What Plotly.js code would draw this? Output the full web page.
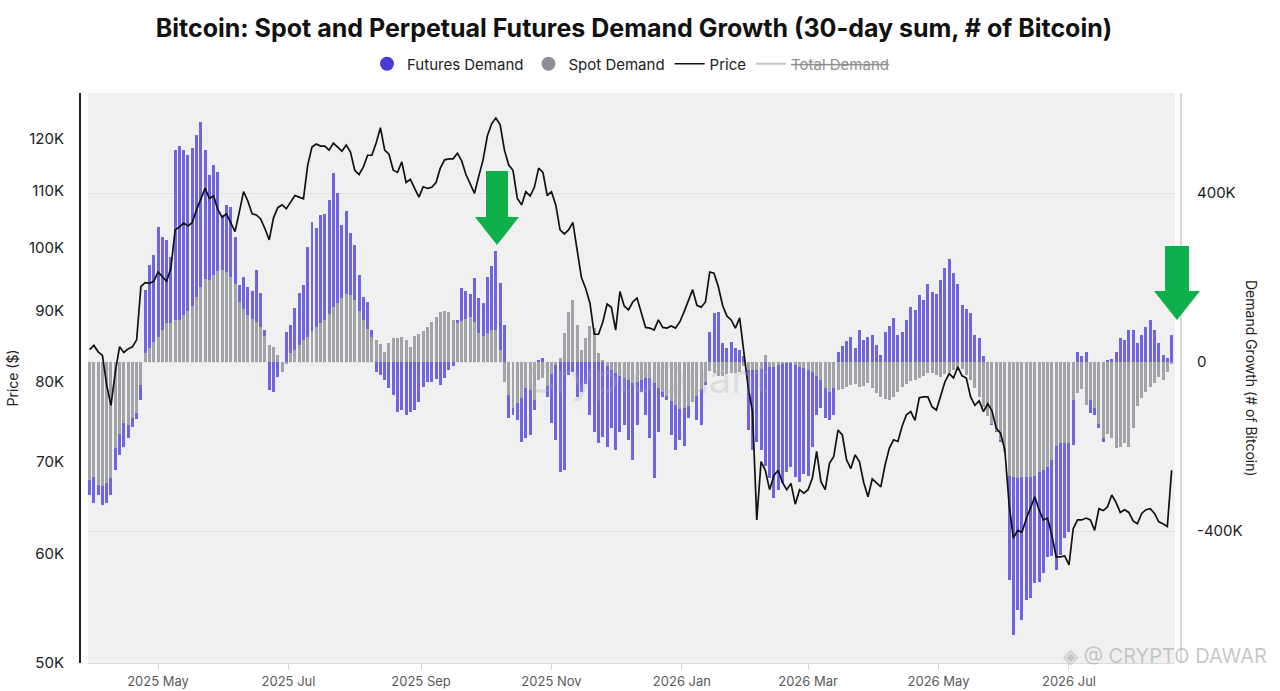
<!DOCTYPE html>
<html>
<head>
<meta charset="utf-8">
<script src="https://cdn.plot.ly/plotly-3.0.1.min.js"></script>
<style>
  html, body { margin: 0; padding: 0; background: #ffffff; }
  #chart { width: 1280px; height: 691px; }
</style>
</head>
<body>
<div id="chart"></div>
<script>
// ---------- DATA ----------
// Sampling: one value every 2 days starting 2025-03-30
const startDate = '2025-03-30';
const stepDays = 2;

// Futures demand, 30-day sum, thousands of BTC
const futuresDemandK = [
  -315, -334, -315, -338, -334, -315, -256, -220, -201, -180,
  -154, -135, -90, 170, 230, 253, 320, 296, 289, 249,
  502, 511, 502, 490, 507, 537, 568, 502, 443, 466,
  450, 348, 372, 367, 296, 182, 201, 178, 168, 218,
  163, 76, -66, -71, -36, -7, 71, 88, 128, 163,
  182, 272, 331, 317, 348, 350, 383, 447, 400, 324,
  357, 305, 277, 206, 154, 142, 76, -24, -31, -43,
  -62, -78, -118, -114, -125, -118, -114, -95, -59, -47,
  -47, -40, -54, -38, -19, -9, 99, 175, 168, 161,
  199, 151, 140, 201, 227, 262, 187, 88, -133, -125,
  -137, -189, -180, -173, -114, 5, 9, -83, -144, -185,
  -260, -256, -31, -24, -83, -71, -52, -125, -166, -192,
  -178, -201, -156, -208, -166, -149, -185, -232, -149, -71,
  -125, -180, -275, -166, -83, -90, -173, -208, -185, -199,
  -133, -85, -137, -149, -54, 71, 116, 118, 45, 33,
  47, 33, 28, 14, -161, -208, -189, -208, -246, -275,
  -322, -303, -286, -260, -249, -272, -284, -265, -270, -201,
  -125, -109, -133, -137, -125, 24, 38, 50, 59, 33,
  76, 52, 59, 64, 40, 17, 71, 85, 104, 64,
  71, 99, 130, 123, 159, 147, 185, 166, 161, 194,
  222, 244, 211, 185, 135, 125, 116, 64, 57, 14,
  -114, -149, -166, -189, -213, -516, -646, -587, -611, -563,
  -559, -523, -521, -499, -462, -459, -492, -457, -417, -402,
  -196, 24, 14, 24, -121, -125, -156, -189, 5, 7,
  24, 57, 52, 76, 76, 45, 64, 83, 99, 76,
  45, 17, 9, 64
];

// Spot demand, 30-day sum, thousands of BTC
const spotDemandK = [
  -279, -272, -291, -294, -286, -275, -204, -170, -144, -149,
  -133, -121, -54, 21, 33, 47, 59, 76, 92, 92,
  99, 99, 111, 121, 133, 154, 178, 196, 194, 206,
  215, 218, 213, 201, 185, 142, 125, 111, 102, 95,
  83, 62, 40, 36, 17, -24, -5, 21, 28, 40,
  52, 59, 73, 83, 92, 99, 114, 130, 140, 151,
  161, 159, 147, 121, 99, 78, 59, 52, 43, 24,
  45, 57, 57, 59, 52, 36, 62, 66, 73, 83,
  95, 107, 118, 121, 118, 99, 92, 97, 102, 107,
  95, 69, 62, 69, 76, 76, 28, -47, -78, -109,
  -97, -85, -62, -66, -90, -43, -38, -57, -28, -7,
  9, 69, 118, 147, 88, 28, 57, 85, 80, 21,
  5, -9, -19, -26, -33, -38, -43, -50, -47, -43,
  -38, -38, -50, -62, -71, -80, -92, -102, -111, -109,
  -104, -95, -80, -64, -47, -21, -26, -33, -33, -28,
  -26, -26, -24, -9, -19, -19, -19, -17, 17, -12,
  -12, -7, -5, -2, -2, -7, -12, -14, -19, -24,
  -33, -43, -62, -71, -62, -66, -64, -59, -54, -52,
  -59, -57, -50, -62, -73, -83, -88, -90, -83, -71,
  -59, -52, -45, -43, -38, -33, -26, -26, -31, -36,
  -28, -24, -19, -14, -17, -31, -43, -62, -83, -107,
  -128, -147, -163, -185, -213, -270, -272, -275, -272, -272,
  -272, -270, -260, -256, -249, -232, -199, -192, -192, -192,
  -90, -73, -64, -102, -90, -109, -147, -180, -170, -180,
  -204, -201, -192, -201, -156, -104, -85, -71, -59, -50,
  -36, -43, -24, -5
];

// Bitcoin price, thousands of USD
const priceK = [
  84.4, 85.0, 84.1, 83.6, 79.5, 76.9, 81.3, 84.8, 84.0, 84.5,
  84.8, 85.8, 93.8, 94.4, 94.3, 94.6, 96.1, 95.3, 94.6, 96.7,
  103.1, 103.6, 104.3, 103.8, 104.4, 106.6, 108.7, 110.5, 108.7, 109.1,
  106.6, 105.3, 105.9, 104.4, 102.8, 106.2, 109.9, 108.2, 105.9, 105.7,
  105.0, 103.3, 101.4, 105.2, 107.0, 107.5, 106.8, 108.0, 109.2, 108.9,
  108.6, 114.9, 118.4, 119.0, 118.6, 118.6, 117.8, 119.2, 118.4, 117.6,
  118.8, 117.4, 113.9, 113.1, 114.5, 116.8, 116.8, 119.2, 122.3, 117.8,
  117.0, 113.9, 113.5, 115.5, 111.6, 112.2, 110.5, 108.9, 110.8, 110.5,
  110.7, 111.6, 114.3, 115.9, 116.1, 116.1, 117.2, 115.7, 113.1, 111.2,
  109.6, 112.8, 115.9, 120.6, 123.1, 124.3, 122.9, 117.8, 114.9, 113.9,
  108.7, 107.5, 109.9, 109.1, 110.7, 114.3, 113.5, 109.2, 109.9, 107.5,
  103.1, 102.4, 103.1, 104.4, 100.0, 95.2, 93.5, 91.2, 86.6, 86.6,
  88.4, 91.1, 90.6, 87.2, 93.0, 90.8, 90.2, 91.4, 92.0, 89.9,
  87.6, 87.5, 87.2, 88.7, 87.6, 87.5, 87.8, 87.5, 88.4, 89.9,
  91.7, 93.3, 90.9, 90.6, 91.4, 96.1, 95.9, 93.8, 90.9, 89.3,
  88.7, 87.5, 89.0, 84.0, 79.2, 76.1, 63.5, 70.0, 69.0, 66.8,
  68.4, 69.0, 67.6, 66.8, 67.5, 65.2, 66.8, 66.4, 66.8, 68.1,
  71.2, 67.7, 66.8, 69.8, 70.6, 73.8, 73.2, 70.2, 69.2, 70.8,
  70.0, 67.6, 66.0, 68.0, 67.5, 67.1, 69.6, 71.6, 72.6, 72.4,
  74.3, 75.7, 76.1, 75.0, 77.9, 78.0, 78.0, 76.7, 76.3, 78.1,
  80.0, 81.1, 80.5, 82.0, 80.8, 80.5, 78.0, 76.9, 77.5, 76.1,
  77.1, 76.2, 74.0, 73.4, 71.4, 65.2, 61.6, 62.4, 62.2, 63.6,
  64.9, 66.0, 64.6, 63.5, 63.7, 61.9, 59.7, 59.7, 59.8, 58.9,
  62.6, 63.5, 63.5, 63.7, 63.5, 62.4, 64.7, 64.5, 64.9, 66.2,
  65.4, 64.3, 64.6, 64.3, 63.4, 63.1, 64.2, 64.6, 64.7, 64.2,
  63.3, 63.1, 62.8, 69.0
];

// Axis ticks
const xTickDates  = ['2025-05-01','2025-07-01','2025-09-01','2025-11-01','2026-01-01','2026-03-01','2026-05-01','2026-07-01'];
const xTickLabels = ['2025 May','2025 Jul','2025 Sep','2025 Nov','2026 Jan','2026 Mar','2026 May','2026 Jul'];
const priceTicks  = [50, 60, 70, 80, 90, 100, 110, 120];
const priceTickLabels = ['50K','60K','70K','80K','90K','100K','110K','120K'];
const demandTicks = [-400, 0, 400];
const demandTickLabels = ['-400K','0','400K'];

const titleText = 'Bitcoin: Spot and Perpetual Futures Demand Growth (30-day sum, # of Bitcoin)';

// ---------- BUILD ----------
const dayMs = 86400000;
const t0 = Date.parse(startDate + 'T00:00:00Z');
const dates = futuresDemandK.map((_, i) => new Date(t0 + i * stepDays * dayMs).toISOString().slice(0, 10));

const FUT = '#7064e3';
const SPOT = '#a2a2a9';
const BAR_W = 1.4 * dayMs;

const traces = [
  { type: 'bar', x: dates, y: futuresDemandK, yaxis: 'y', name: 'Futures Demand',
    marker: { color: FUT, line: { width: 0 } }, width: BAR_W,
    showlegend: false, legendgroup: 'fut', hoverinfo: 'skip' },
  { type: 'bar', x: dates, y: spotDemandK, yaxis: 'y', name: 'Spot Demand',
    marker: { color: SPOT, line: { width: 0 } }, width: BAR_W,
    showlegend: false, legendgroup: 'spot', hoverinfo: 'skip' },
  { type: 'scatter', mode: 'markers', x: [dates[0]], y: [null], yaxis: 'y',
    name: 'Futures Demand', legendgroup: 'fut', legendrank: 1,
    marker: { color: '#4b3bd6', size: 14, symbol: 'circle' }, hoverinfo: 'skip' },
  { type: 'scatter', mode: 'markers', x: [dates[0]], y: [null], yaxis: 'y',
    name: 'Spot Demand', legendgroup: 'spot', legendrank: 2,
    marker: { color: '#8e8d96', size: 14, symbol: 'circle' }, hoverinfo: 'skip' },
  { type: 'scatter', mode: 'lines', x: dates, y: priceK, yaxis: 'y2', name: 'Price',
    legendrank: 3, line: { color: '#111111', width: 1.7 }, hoverinfo: 'skip' },
  { type: 'scatter', mode: 'lines', x: [dates[0]], y: [null], yaxis: 'y',
    name: '<span style="text-decoration:line-through">Total Demand</span>',
    visible: 'legendonly', legendrank: 4, line: { color: '#8a8a8a', width: 2 }, hoverinfo: 'skip' }
];

const layout = {
  width: 1280, height: 691,
  paper_bgcolor: '#ffffff', plot_bgcolor: '#f0f0f0',
  font: { family: 'Inter, "Open Sans", sans-serif', color: '#222222', size: 14 },
  margin: { l: 80, r: 99, t: 93, b: 28, pad: 0 },
  title: { text: titleText, xref: 'container', yref: 'container', x: 0.4953, y: 0.9595,
           xanchor: 'center', yanchor: 'middle',
           font: { family: 'Inter, sans-serif', size: 25, weight: 700, color: '#111111' } },
  barmode: 'overlay', bargap: 0,
  hovermode: false,
  showlegend: true,
  legend: { orientation: 'h', x: 0.5, xanchor: 'center', y: 1.0509, yanchor: 'middle',
            font: { size: 15, color: '#222222' }, bgcolor: 'rgba(0,0,0,0)', itemwidth: 30 },
  xaxis: { type: 'date', domain: [0.00727, 0.99455],
           range: ['2025-03-29 06:00', '2026-08-19 14:00'],
           tickmode: 'array', tickvals: xTickDates, ticktext: xTickLabels,
           ticks: 'outside', ticklen: 6, tickcolor: '#d2d2d2', tickwidth: 1,
           showline: true, linecolor: '#dcdcdc', linewidth: 1,
           showgrid: false, zeroline: false,
           tickfont: { size: 13, color: '#5a5a5a' } },
  yaxis: { anchor: 'free', position: 1, side: 'right',
           range: [-712.4, 636.7],
           tickmode: 'array', tickvals: demandTicks, ticktext: demandTickLabels,
           ticks: '', ticklabelstandoff: 12,
           showline: true, linecolor: '#d9d9d9', linewidth: 2,
           showgrid: true, gridcolor: '#e3e3e3', gridwidth: 1, zeroline: false,
           tickfont: { size: 15, color: '#222222' } },
  yaxis2: { type: 'log', overlaying: 'y', anchor: 'free', position: 0, side: 'left',
            range: [Math.log10(50), Math.log10(129.6)],
            tickmode: 'array', tickvals: priceTicks, ticktext: priceTickLabels,
            ticks: '', ticklabelstandoff: 12,
            showline: true, linecolor: '#222222', linewidth: 2,
            showgrid: false, zeroline: false,
            tickfont: { size: 15, color: '#222222' },
            title: { text: 'Price ($)', font: { size: 14, color: '#222222' }, standoff: 6 } },
  shapes: [
    { type: 'path', xref: 'paper', yref: 'paper', layer: 'above', fillcolor: '#0db04b', line: { width: 0 },
      path: 'M 0.36876,0.86316 L 0.38874,0.86316 L 0.38874,0.78246 L 0.39873,0.78246 L 0.37875,0.73333 L 0.35876,0.78246 L 0.36876,0.78246 Z' },
    { type: 'path', xref: 'paper', yref: 'paper', layer: 'above', fillcolor: '#0db04b', line: { width: 0 },
      path: 'M 0.98547,0.73158 L 1.00727,0.73158 L 1.00727,0.65263 L 1.01726,0.65263 L 0.99637,0.60175 L 0.97548,0.65263 L 0.98547,0.65263 Z' }
  ],
  annotations: [
    { text: 'Demand Growth (# of Bitcoin)', xref: 'paper', yref: 'paper', x: 1.0645, y: 0.5,
      textangle: 90, showarrow: false, xanchor: 'center', yanchor: 'middle',
      font: { size: 14, color: '#222222' } },
    { text: 'CryptoQuant', xref: 'paper', yref: 'paper', x: 0.515, y: 0.5,
      showarrow: false, xanchor: 'center', yanchor: 'middle',
      font: { size: 40, color: 'rgba(175,175,175,0.28)' } },
    { text: '◈ @ CRYPTO DAWAR', xref: 'paper', yref: 'paper', x: 1.08, y: 0.012,
      showarrow: false, xanchor: 'right', yanchor: 'middle',
      font: { size: 20, color: 'rgba(190,190,190,0.85)' } }
  ]
};

Plotly.newPlot('chart', traces, layout, { displayModeBar: false, staticPlot: true });
</script>
</body>
</html>
